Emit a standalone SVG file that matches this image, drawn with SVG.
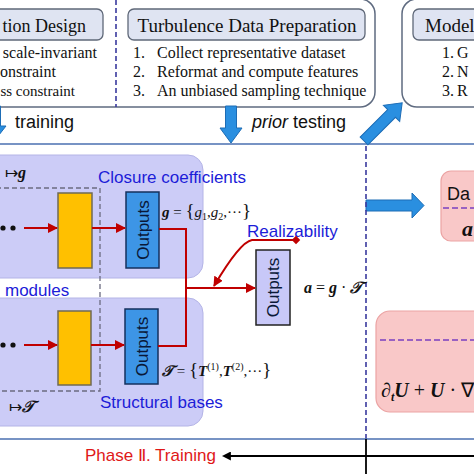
<svg xmlns="http://www.w3.org/2000/svg" width="474" height="474" viewBox="0 0 474 474">
<defs>
<style>
.serif{font-family:"Liberation Serif","Times New Roman",serif;fill:#111}
.sans{font-family:"Liberation Sans",Arial,sans-serif}
.hdr{fill:#dfe4f2;stroke:#5f6878;stroke-width:1.3}
.outer{fill:#fff;stroke:#5f6b80;stroke-width:1.5}
.lav{fill:#ccccf7;stroke:#b4b4e6;stroke-width:1}
.yel{fill:#ffc000;stroke:#6f6a55;stroke-width:1.5}
.outb{fill:#3d95e6;stroke:#14305e;stroke-width:1.5}
.pink{fill:#f9c8c8;stroke:#eba3a3;stroke-width:1.2}
.blue{fill:#2a8fe0;stroke:#1d6cb5;stroke-width:1}
.red{fill:none;stroke:#c00000;stroke-width:2}
.navyd{stroke:#3a3a9e;stroke-width:1.6;stroke-dasharray:5 3;fill:none}
.pdash{stroke:#7a3fc0;stroke-width:1.5;stroke-dasharray:6 3;fill:none}
.lbl{fill:#1c1cd8;font-size:17px}
.otxt{font-size:17px;fill:#0a1838}
</style>
<marker id="rh" viewBox="0 0 10 10" refX="9" refY="5" markerWidth="5" markerHeight="5" orient="auto"><path d="M0,0 L10,5 L0,10 z" fill="#c00000"/></marker>
<marker id="kh" viewBox="0 0 10 10" refX="1" refY="5" markerWidth="5" markerHeight="5" orient="auto-start-reverse"><path d="M0,0 L10,5 L0,10 z" fill="#000"/></marker>
</defs>
<rect width="474" height="474" fill="#fff"/>

<!-- Phase I top area -->
<g id="phase1-box">
<rect class="outer" x="-30" y="-1" width="405" height="108" rx="15"/>
<line class="navyd" x1="116" y1="0" x2="116" y2="107"/>
</g>
<g id="design-panel">
<rect class="hdr" x="-20" y="9" width="123" height="31" rx="6"/>
<text class="serif" x="86" y="32" font-size="18" text-anchor="end">tion Design</text>
<text class="serif" x="97" y="58" font-size="16" text-anchor="end">scale-invariant</text>
<text class="serif" x="56" y="77" font-size="16" text-anchor="end">onstraint</text>
<text class="serif" x="75" y="96" font-size="15" text-anchor="end">ss constraint</text>
</g>
<g id="data-panel">
<rect class="hdr" x="128" y="9" width="237" height="31" rx="6"/>
<text class="serif" x="247" y="32" font-size="19" text-anchor="middle">Turbulence Data Preparation</text>
<text class="serif" x="133" y="58" font-size="16">1.</text>
<text class="serif" x="157" y="58" font-size="16">Collect representative dataset</text>
<text class="serif" x="133" y="77" font-size="16">2.</text>
<text class="serif" x="157" y="77" font-size="16">Reformat and compute features</text>
<text class="serif" x="133" y="96" font-size="16">3.</text>
<text class="serif" x="157" y="96" font-size="16">An unbiased sampling technique</text>
</g>
<g id="model-panel">
<rect class="outer" x="402" y="-1" width="100" height="108" rx="15"/>
<rect class="hdr" x="413" y="9" width="80" height="31" rx="6"/>
<text class="serif" x="425" y="32" font-size="19">Model</text>
<text class="serif" x="442" y="58" font-size="16">1.</text>
<text class="serif" x="457" y="58" font-size="16">G</text>
<text class="serif" x="442" y="77" font-size="16">2.</text>
<text class="serif" x="457" y="77" font-size="16">N</text>
<text class="serif" x="442" y="96" font-size="16">3.</text>
<text class="serif" x="457" y="96" font-size="16">R</text>
</g>

<!-- band -->
<g id="band">
<line x1="0" y1="144" x2="474" y2="144" stroke="#4a6fb0" stroke-width="1.5"/>
<text class="sans" x="15" y="128" font-size="18" fill="#111">training</text>
<text class="sans" x="252" y="128" font-size="18" fill="#111"><tspan font-style="italic">prior</tspan> testing</text>
</g>

<g id="block-arrows">
<polygon class="blue" points="-10.5,106 0.5,106 0.5,126 6,126 -5,140 -16,126 -10.5,126"/>
<polygon class="blue" points="225.5,106 236.5,106 236.5,128 242,128 231,143 220,128 225.5,128"/>
<polygon class="blue" transform="translate(364,141) rotate(-45)" points="0,-5.5 39,-5.5 39,-11.5 54,0 39,11.5 39,5.5 0,5.5"/>
<polygon class="blue" points="366,200 412,200 412,193 424,205.5 412,218 412,211 366,211"/>
</g>

<!-- Phase II area -->
<g id="phase2-frame">
<line class="navyd" x1="366" y1="146" x2="366" y2="439"/>
<line x1="0" y1="439" x2="474" y2="439" stroke="#4a6fb0" stroke-width="1.5"/>
<line x1="366" y1="439" x2="366" y2="474" stroke="#000" stroke-width="1.8"/>
<line x1="230" y1="456" x2="474" y2="456" stroke="#000" stroke-width="1.8" marker-start="url(#kh)"/>
<text class="sans" x="85" y="461" font-size="17" fill="#e01818">Phase Ⅱ. Training</text>
</g>

<g id="closure-panel">
<rect class="lav" x="-30" y="155" width="233" height="123" rx="15"/>
<text class="lbl sans" x="98" y="183">Closure coefficients</text>
<text class="serif" x="26" y="178" font-size="16" text-anchor="end">↦<tspan font-weight="bold" font-style="italic">g</tspan></text>
</g>
<g id="bases-panel">
<rect class="lav" x="-30" y="298" width="233" height="128" rx="15"/>
<text class="lbl sans" x="100" y="408">Structural bases</text>
<text class="serif" x="34" y="412" font-size="16" text-anchor="end">↦<tspan font-weight="bold" font-style="italic">𝒯</tspan></text>
</g>
<g id="modules-label">
<text class="lbl sans" x="5" y="296">modules</text>
</g>
<g id="feature-box">
<rect x="-20" y="188" width="120" height="203" fill="none" stroke="#6b6b80" stroke-width="1.3" stroke-dasharray="5 3"/>
</g>
<g id="net-g">
<circle cx="3" cy="228" r="2.6" fill="#111"/><circle cx="13" cy="228" r="2.6" fill="#111"/>
<rect class="yel" x="58" y="193" width="34" height="75"/>
</g>
<g id="net-t">
<circle cx="3" cy="345" r="2.6" fill="#111"/><circle cx="13" cy="345" r="2.6" fill="#111"/>
<rect class="yel" x="58" y="311" width="33" height="74"/>
</g>
<g id="outputs-g">
<rect class="outb" x="126" y="192" width="33" height="76"/>
<text class="sans otxt" transform="translate(149,230) rotate(-90)" text-anchor="middle">Outputs</text>
<text class="serif" x="162" y="217" font-size="15"><tspan font-weight="bold" font-style="italic">g</tspan> = <tspan font-size="19">{</tspan><tspan font-style="italic">g</tspan><tspan font-size="10" dy="3">1</tspan><tspan dy="-3">,</tspan><tspan font-style="italic">g</tspan><tspan font-size="10" dy="3">2</tspan><tspan dy="-3">,···</tspan><tspan font-size="19">}</tspan></text>
</g>
<g id="outputs-t">
<rect class="outb" x="125" y="309" width="33" height="75"/>
<text class="sans otxt" transform="translate(148,346.5) rotate(-90)" text-anchor="middle">Outputs</text>
<text class="serif" x="162" y="376" font-size="15"><tspan font-weight="bold" font-style="italic">𝒯</tspan> = <tspan font-size="19">{</tspan><tspan font-weight="bold" font-style="italic">T</tspan><tspan font-size="10" dy="-6">(1)</tspan><tspan dy="6">,</tspan><tspan font-weight="bold" font-style="italic">T</tspan><tspan font-size="10" dy="-6">(2)</tspan><tspan dy="6">,···</tspan><tspan font-size="19">}</tspan></text>
</g>
<g id="outputs-a">
<rect x="256" y="250" width="34" height="75" fill="#c8c8f8" stroke="#222" stroke-width="1.5"/>
<text class="sans otxt" transform="translate(279,287.5) rotate(-90)" text-anchor="middle">Outputs</text>
<text class="serif" x="304" y="293" font-size="16" font-weight="bold" font-style="italic">a<tspan font-weight="normal" font-style="normal"> = </tspan>g<tspan font-weight="normal" font-style="normal"> · </tspan>𝒯</text>
</g>
<g id="realizability">
<text class="lbl sans" x="247" y="237">Realizability</text>
</g>

<g id="connectors">
<line class="red" x1="24" y1="228" x2="57" y2="228" marker-end="url(#rh)"/>
<line class="red" x1="92" y1="228" x2="125" y2="228" marker-end="url(#rh)"/>
<line class="red" x1="24" y1="345" x2="57" y2="345" marker-end="url(#rh)"/>
<line class="red" x1="91" y1="345" x2="124" y2="345" marker-end="url(#rh)"/>
<polyline class="red" points="159,229 186,229 186,346 158,346"/>
<line class="red" x1="186" y1="288" x2="255" y2="288" marker-end="url(#rh)"/>
<path class="red" d="M296,240 L252,240 Q240,242 214,286" marker-end="url(#rh)"/>
<rect x="293" y="237" width="6" height="6" fill="#c00000" transform="rotate(45 296 240)"/>
</g>

<g id="data-box">
<rect class="pink" x="441" y="171" width="50" height="70" rx="10"/>
<text class="sans" x="447" y="200" font-size="18" fill="#111">Da</text>
<line class="pdash" x1="443" y1="208" x2="474" y2="208"/>
<text class="serif" x="462" y="236" font-size="22" font-weight="bold" font-style="italic">a</text>
</g>
<g id="pde-box">
<rect class="pink" x="376" y="311" width="120" height="101" rx="14"/>
<line class="pdash" x1="380" y1="340" x2="474" y2="340"/>
<text class="serif" x="381" y="397" font-size="20" font-weight="bold" font-style="italic"><tspan font-weight="normal">∂</tspan><tspan font-size="12" dy="4">t</tspan><tspan dy="-4">U</tspan><tspan font-weight="normal" font-style="normal"> + </tspan>U<tspan font-weight="normal" font-style="normal"> · ∇</tspan></text>
</g>
</svg>
